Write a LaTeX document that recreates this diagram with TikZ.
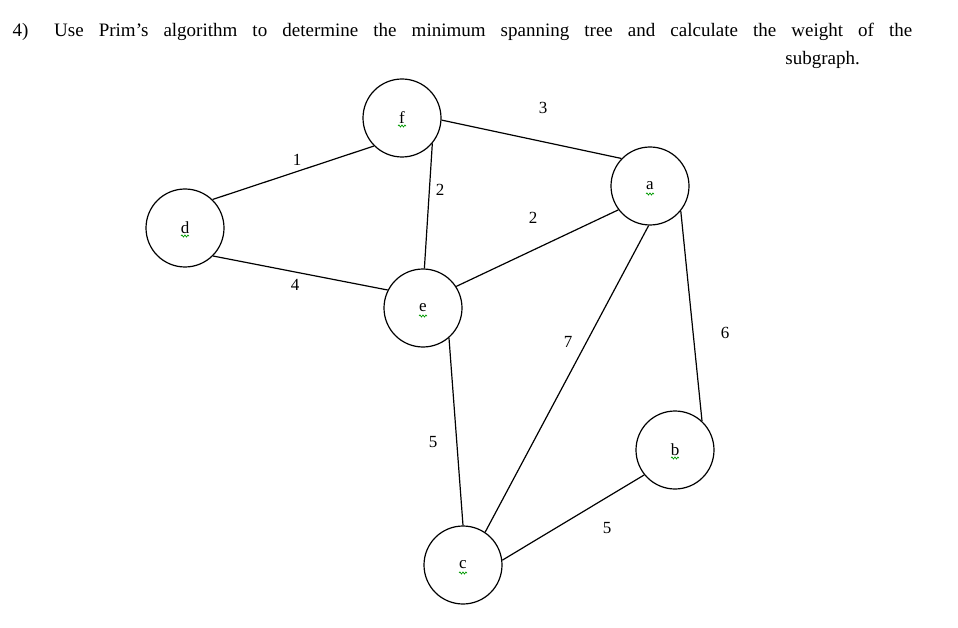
\documentclass[tikz,border=0pt]{standalone}
\usepackage{fontspec}
\setmainfont{Liberation Serif}
\usetikzlibrary{decorations.pathmorphing}
\begin{document}
\begin{tikzpicture}[x=1pt,y=-1pt,
  vtx/.style={circle,draw,line width=1.2pt,minimum size=78pt,inner sep=0pt,font=\fontsize{17}{17}\selectfont},
  edge/.style={line width=1.2pt},
  wt/.style={font=\fontsize{17}{17}\selectfont},
  squig/.style={draw=green!60!black,line width=0.7pt,decorate,decoration={snake,amplitude=1pt,segment length=3pt}}]
\useasboundingbox (0,0) rectangle (958,628);
\node[anchor=west,font=\fontsize{19}{19}\selectfont] (num) at (9,32) {4)};
\node[anchor=north west,inner sep=0pt,text width=858pt,align=justify,font=\fontsize{19}{27}\selectfont] (t1) at (54,23)
  {\parfillskip=0pt Use Prim’s algorithm to determine the minimum spanning tree and calculate the weight of the\par};
\node[anchor=east,inner sep=0pt,font=\fontsize{19}{19}\selectfont] (t2) at (860,60) {subgraph.};
\node[vtx] (f) at (402,118) {f};
\node[vtx] (a) at (650,186) {a};
\node[vtx] (d) at (185,228) {d};
\node[vtx] (e) at (423,308) {e};
\node[vtx] (b) at (675,450) {b};
\node[vtx] (c) at (463,565) {c};
\foreach \n in {f,a,d,e,b,c}{\draw[squig] ([xshift=-4pt,yshift=-8pt]\n.center) -- ([xshift=4pt,yshift=-8pt]\n.center);}
\draw[edge] (f.-3) -- (a.136);
\draw[edge] (f.225) -- (d.46);
\draw[edge] (f.320) -- (e.88);
\draw[edge] (d.315) -- (e.153);
\draw[edge] (e.33) -- (a.217);
\draw[edge] (e.311) -- (c.90);
\draw[edge] (a.268) -- (c.56);
\draw[edge] (a.321) -- (b.47);
\draw[edge] (b.219) -- (c.7);
\node[wt] (w1) at (543,108) {3};
\node[wt] (w2) at (297,160) {1};
\node[wt] (w3) at (440,190) {2};
\node[wt] (w4) at (533,218) {2};
\node[wt] (w5) at (295,285) {4};
\node[wt] (w6) at (568,342) {7};
\node[wt] (w7) at (725,333) {6};
\node[wt] (w8) at (433,442) {5};
\node[wt] (w9) at (607,528) {5};
\end{tikzpicture}
\end{document}
